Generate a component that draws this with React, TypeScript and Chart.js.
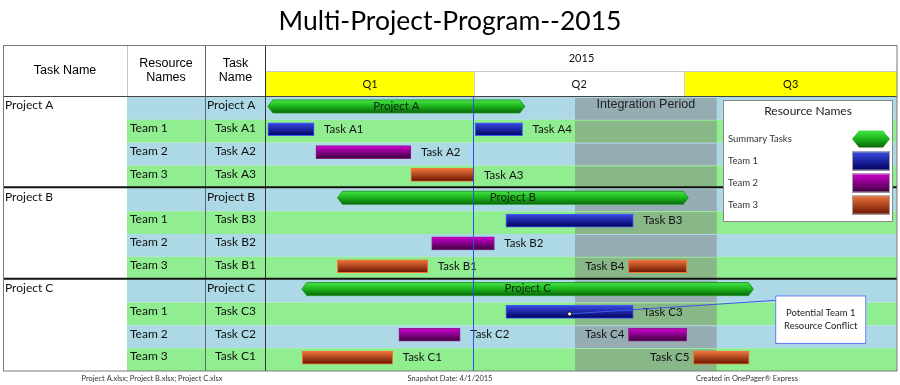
import React, { useEffect, useRef } from 'react';
import { Chart, registerables } from 'chart.js';

Chart.register(...registerables);

// ---------- data ----------
const chartTitle = 'Multi-Project-Program--2015';
const yearLabel = '2015';
const quarterLabels = ['Q1', 'Q2', 'Q3'];
const quarterStarts = [0, 90, 181];
const quarterEnds = [90, 181, 273];
const quarterFills = ['#FFFF00', '#FFFFFF', '#FFFF00'];

const headerLabels = [['Task Name'], ['Resource', 'Names'], ['Task', 'Name']];

const rowKeys = ['A0', 'A1', 'A2', 'A3', 'B0', 'B1', 'B2', 'B3', 'C0', 'C1', 'C2', 'C3'];
const projectNames = ['Project A', 'Project B', 'Project C'];
const rowResources = ['', 'Team 1', 'Team 2', 'Team 3', '', 'Team 1', 'Team 2', 'Team 3', '', 'Team 1', 'Team 2', 'Team 3'];
const rowTaskNames = ['Project A', 'Task A1', 'Task A2', 'Task A3', 'Project B', 'Task B3', 'Task B2', 'Task B1', 'Project C', 'Task C3', 'Task C2', 'Task C1'];

const summaryRows = ['A0', 'B0', 'C0'];
const summaryStart = [0.8, 30.9, 15.5];
const summaryEnd = [112, 182.7, 210.9];
const summaryLabels = ['Project A', 'Project B', 'Project C'];

const team1Rows = ['A1', 'A1', 'B1', 'C1'];
const team1Start = [0.8, 90.5, 103.8, 103.8];
const team1End = [20.8, 111, 158.9, 158.9];
const team1Labels = ['Task A1', 'Task A4', 'Task B3', 'Task C3'];
const team1Sides = ['right', 'right', 'right', 'right'];

const team2Rows = ['A2', 'B2', 'C2', 'C2'];
const team2Start = [21.6, 71.7, 57.5, 156.8];
const team2End = [62.7, 98.8, 84, 182];
const team2Labels = ['Task A2', 'Task B2', 'Task C2', 'Task C4'];
const team2Sides = ['right', 'right', 'right', 'left'];

const team3Rows = ['A3', 'B3', 'B3', 'C3', 'C3'];
const team3Start = [62.7, 30.9, 156.8, 15.7, 184.9];
const team3End = [90, 70, 182, 54.8, 209];
const team3Labels = ['Task A3', 'Task B1', 'Task B4', 'Task C1', 'Task C5'];
const team3Sides = ['right', 'right', 'left', 'right', 'left'];

const legendTitle = 'Resource Names';
const seriesNames = ['Summary Tasks', 'Team 1', 'Team 2', 'Team 3'];

const integrationLabel = 'Integration Period';
const integrationStart = 133.7;
const integrationEnd = 195;
const snapshotDay = 90;

const calloutLines = ['Potential Team 1', 'Resource Conflict'];
const calloutStart = 220.3;
const calloutEnd = 259.7;
const calloutRow = 'C1';
const calloutSeries = 1;
const calloutIndex = 3;

const footerTexts = ['Project A.xlsx; Project B.xlsx; Project C.xlsx', 'Snapshot Date: 4/1/2015', 'Created in OnePager\u00AE Express'];

// ---------- styles ----------
const BODY_FONT = 'Lato, "Noto Sans", "DejaVu Sans", sans-serif';
const HEAD_FONT = '"Liberation Sans", Arial, sans-serif';
const ROW_FILLS = ['#ADD8E6', '#90EE90'];
const teamColors = [
  { top: '#3A4AE6', bottom: '#00005C', border: '#3C5CFF' },
  { top: '#D200D2', bottom: '#3A003A', border: '#8C1C8C' },
  { top: '#F2763E', bottom: '#681400', border: '#F07030' },
];
const summaryColors = { top: '#46E446', mid: '#1CB41C', bottom: '#0A660A', border: '#139313' };

const labelSets = [summaryLabels, team1Labels, team2Labels, team3Labels];
const sideSets = [null, team1Sides, team2Sides, team3Sides];

function points(rows: string[], starts: number[], ends: number[]) {
  return rows.map((r, i) => ({ x: [starts[i], ends[i]], y: r }));
}

function barGradient(top: string, bottom: string) {
  return (c: any) => {
    const chart = c.chart;
    const ys = chart.scales && chart.scales.y;
    if (c.type !== 'data' || !ys || !c.raw) return bottom;
    const yc = ys.getPixelForValue(rowKeys.indexOf(c.raw.y));
    if (!isFinite(yc)) return bottom;
    const g = chart.ctx.createLinearGradient(0, yc - 6.5, 0, yc + 6.5);
    g.addColorStop(0, top);
    g.addColorStop(1, bottom);
    return g;
  };
}

function hexPath(ctx: CanvasRenderingContext2D, x0: number, x1: number, yc: number, h: number, tip: number) {
  ctx.beginPath();
  ctx.moveTo(x0, yc);
  ctx.lineTo(x0 + tip, yc - h);
  ctx.lineTo(x1 - tip, yc - h);
  ctx.lineTo(x1, yc);
  ctx.lineTo(x1 - tip, yc + h);
  ctx.lineTo(x0 + tip, yc + h);
  ctx.closePath();
}

function summaryFill(ctx: CanvasRenderingContext2D, yTop: number, yBot: number) {
  const g = ctx.createLinearGradient(0, yTop, 0, yBot);
  g.addColorStop(0, summaryColors.top);
  g.addColorStop(0.5, summaryColors.mid);
  g.addColorStop(1, summaryColors.bottom);
  return g;
}

function line(ctx: CanvasRenderingContext2D, x0: number, y0: number, x1: number, y1: number, color: string, w: number) {
  ctx.save();
  ctx.strokeStyle = color;
  ctx.lineWidth = w;
  ctx.beginPath();
  ctx.moveTo(x0, y0);
  ctx.lineTo(x1, y1);
  ctx.stroke();
  ctx.restore();
}

function text(ctx: CanvasRenderingContext2D, s: string, x: number, y: number, font: string, color: string, align: CanvasTextAlign) {
  ctx.save();
  ctx.font = font;
  ctx.fillStyle = color;
  ctx.textAlign = align;
  ctx.textBaseline = 'middle';
  ctx.fillText(s, x, y);
  ctx.restore();
}

const TABLE_LEFT = 3;
const COL1 = 127;
const COL2 = 205;
const HEAD_TOP = 45;
const HEAD_MID = 71;

function geometry(chart: any) {
  const ys = chart.scales.y;
  const band = ys.getPixelForValue(1) - ys.getPixelForValue(0);
  const center = (i: number) => ys.getPixelForValue(i);
  const top = (i: number) => center(i) - band / 2 + 2;
  return { band, center, top, bottom: (i: number) => top(i) + band };
}

const ganttPlugin = {
  id: 'ganttFrame',
  beforeDraw(chart: any) {
    const { ctx, chartArea: ca } = chart;
    const xs = chart.scales.x;
    const g = geometry(chart);
    const headBottom = g.top(0);

    ctx.save();
    ctx.fillStyle = '#FFFFFF';
    ctx.fillRect(0, 0, chart.width, chart.height);

    // title
    text(ctx, chartTitle, chart.width / 2, 21, '26.5px ' + BODY_FONT, '#000000', 'center');

    // quarter cells
    quarterLabels.forEach((q, i) => {
      const x0 = xs.getPixelForValue(quarterStarts[i]);
      const x1 = xs.getPixelForValue(quarterEnds[i]);
      ctx.fillStyle = quarterFills[i];
      ctx.fillRect(x0, HEAD_MID, x1 - x0, headBottom - HEAD_MID);
      text(ctx, q, (x0 + x1) / 2, 84.5, '11px ' + BODY_FONT, '#111111', 'center');
    });
    text(ctx, yearLabel, (ca.left + ca.right) / 2, 58, '11px ' + BODY_FONT, '#111111', 'center');

    // header column labels
    const headCenters = [(TABLE_LEFT + COL1) / 2, (COL1 + COL2) / 2, (COL2 + ca.left) / 2];
    headerLabels.forEach((lines, i) => {
      if (lines.length === 1) text(ctx, lines[0], headCenters[i], 71, '12.5px ' + HEAD_FONT, '#000000', 'center');
      else lines.forEach((l, k) => text(ctx, l, headCenters[i], 63.5 + k * 14, '12.5px ' + HEAD_FONT, '#000000', 'center'));
    });

    // row backgrounds
    rowKeys.forEach((_, i) => {
      ctx.fillStyle = ROW_FILLS[i % 2];
      ctx.fillRect(COL1, g.top(i), ca.right - COL1, g.band);
    });

    // integration period band (per row, leaving a 1px seam)
    const ix0 = xs.getPixelForValue(integrationStart);
    const ix1 = xs.getPixelForValue(integrationEnd);
    ctx.fillStyle = 'rgba(128,128,128,0.5)';
    rowKeys.forEach((_, i) => {
      ctx.fillRect(ix0, g.top(i) + 1, ix1 - ix0, g.band - 1);
    });
    text(ctx, integrationLabel, (ix0 + ix1) / 2, g.center(0) - 1.5, '12.5px ' + HEAD_FONT, '#222222', 'center');

    // left column texts
    rowKeys.forEach((_, i) => {
      const yc = g.center(i);
      if (i % 4 === 0) {
        text(ctx, projectNames[i / 4], TABLE_LEFT + 2, yc - 1, '12px ' + BODY_FONT, '#111111', 'left');
        text(ctx, rowTaskNames[i], COL2 + 2, yc - 1, '12px ' + BODY_FONT, '#111111', 'left');
      } else {
        text(ctx, rowResources[i], COL1 + 3, yc - 1, '12px ' + BODY_FONT, '#111111', 'left');
        text(ctx, rowTaskNames[i], (COL2 + ca.left) / 2, yc - 1, '12px ' + BODY_FONT, '#111111', 'center');
      }
    });
    ctx.restore();
  },
  afterDatasetsDraw(chart: any) {
    const { ctx, chartArea: ca } = chart;
    const xs = chart.scales.x;
    const g = geometry(chart);
    const headBottom = g.top(0);
    const tableBottom = g.bottom(rowKeys.length - 1);
    ctx.save();

    // summary bars
    const metaS = chart.getDatasetMeta(0);
    metaS.data.forEach((el: any, i: number) => {
      const x0 = Math.min(el.x, el.base);
      const x1 = Math.max(el.x, el.base);
      const yc = el.y;
      const h = 6.5;
      if (!isFinite(x0) || !isFinite(x1) || !isFinite(yc)) return;
      hexPath(ctx, x0, x1, yc, h, 5);
      ctx.fillStyle = summaryFill(ctx, yc - h, yc + h);
      ctx.fill();
      ctx.strokeStyle = summaryColors.border;
      ctx.lineWidth = 0.8;
      ctx.stroke();
      text(ctx, summaryLabels[i], (x0 + x1) / 2, yc - 0.5, '11.5px ' + BODY_FONT, '#0C260C', 'center');
    });

    // task labels
    for (let d = 1; d < labelSets.length; d++) {
      const meta = chart.getDatasetMeta(d);
      meta.data.forEach((el: any, i: number) => {
        const x0 = Math.min(el.x, el.base);
        const x1 = Math.max(el.x, el.base);
        const side = (sideSets[d] as string[])[i];
        if (side === 'left') text(ctx, labelSets[d][i], x0 - 4, el.y, '11.5px ' + BODY_FONT, '#111111', 'right');
        else text(ctx, labelSets[d][i], x1 + 10, el.y, '11.5px ' + BODY_FONT, '#111111', 'left');
      });
    }

    // snapshot (today) line
    const tx = Math.round(xs.getPixelForValue(snapshotDay)) - 0.5;
    line(ctx, tx, headBottom, tx, tableBottom, '#2F4FE6', 1);

    // header grid
    line(ctx, ca.left, HEAD_MID + 0.5, ca.right, HEAD_MID + 0.5, '#C8C8C8', 1);
    for (let i = 1; i < quarterStarts.length; i++) {
      const qx = Math.round(xs.getPixelForValue(quarterStarts[i])) + 0.5;
      line(ctx, qx, HEAD_MID, qx, headBottom, '#D0D0D0', 1);
    }
    line(ctx, COL1 + 0.5, HEAD_TOP, COL1 + 0.5, headBottom, '#C8C8C8', 1);
    line(ctx, TABLE_LEFT, headBottom - 0.5, ca.right, headBottom - 0.5, '#444444', 1);
    line(ctx, COL2 + 0.5, HEAD_TOP, COL2 + 0.5, tableBottom, '#5A6A70', 1);
    line(ctx, ca.left - 0.5, HEAD_TOP, ca.left - 0.5, tableBottom, '#333333', 1);

    // project separators
    for (let i = 4; i < rowKeys.length; i += 4) {
      const yy = g.top(i) - 1;
      line(ctx, TABLE_LEFT, yy, ca.right, yy, '#111111', 2);
    }

    // outer border
    ctx.strokeStyle = '#7A7A7A';
    ctx.lineWidth = 1;
    ctx.strokeRect(TABLE_LEFT + 0.5, HEAD_TOP + 0.5, ca.right - TABLE_LEFT - 0.5, tableBottom - HEAD_TOP - 0.5);

    // legend box
    const lx1 = ca.right - 4;
    const lx0 = lx1 - 170;
    const ly0 = headBottom + 3;
    const ly1 = ly0 + 122;
    ctx.fillStyle = '#FFFFFF';
    ctx.fillRect(lx0, ly0, lx1 - lx0, ly1 - ly0);
    ctx.strokeStyle = '#8A8A8A';
    ctx.strokeRect(lx0 + 0.5, ly0 + 0.5, lx1 - lx0 - 1, ly1 - ly0 - 1);
    text(ctx, legendTitle, (lx0 + lx1) / 2, ly0 + 11, '12px ' + BODY_FONT, '#222222', 'center');
    seriesNames.forEach((name, i) => {
      const yc = ly0 + 39 + i * 22;
      text(ctx, name, lx0 + 5, yc, '9.5px ' + BODY_FONT, '#333333', 'left');
      const sx0 = lx1 - 41;
      const sx1 = lx1 - 3;
      if (i === 0) {
        hexPath(ctx, sx0, sx1, yc, 8.5, 7);
        ctx.fillStyle = summaryFill(ctx, yc - 8.5, yc + 8.5);
        ctx.fill();
      } else {
        const c = teamColors[i - 1];
        const gr = ctx.createLinearGradient(0, yc - 9.5, 0, yc + 9.5);
        gr.addColorStop(0, c.top);
        gr.addColorStop(1, c.bottom);
        ctx.fillStyle = gr;
        ctx.fillRect(sx0, yc - 9.5, sx1 - sx0, 19);
        ctx.strokeStyle = '#A0A0A0';
        ctx.lineWidth = 1;
        ctx.strokeRect(sx0 + 0.5, yc - 9.5 + 0.5, sx1 - sx0 - 1, 18);
      }
    });

    // callout
    const target = chart.getDatasetMeta(calloutSeries).data[calloutIndex];
    if (target) {
      const ax = (target.x + target.base) / 2;
      const ay = target.y + 2;
      const cx0 = xs.getPixelForValue(calloutStart);
      const cx1 = xs.getPixelForValue(calloutEnd);
      const cy0 = g.center(rowKeys.indexOf(calloutRow)) - 16.5;
      const cy1 = cy0 + 48.5;
      line(ctx, ax, ay, cx0, cy0 + 5, '#3A5AE8', 1);
      ctx.beginPath();
      ctx.arc(ax, ay, 2, 0, Math.PI * 2);
      ctx.fillStyle = '#FFFFFF';
      ctx.fill();
      ctx.strokeStyle = '#222222';
      ctx.lineWidth = 1;
      ctx.stroke();
      ctx.fillStyle = '#FFFFFF';
      ctx.fillRect(cx0, cy0, cx1 - cx0, cy1 - cy0);
      ctx.strokeStyle = '#5C74F0';
      ctx.strokeRect(cx0 + 0.5, cy0 + 0.5, cx1 - cx0 - 1, cy1 - cy0 - 1);
      calloutLines.forEach((l, k) => text(ctx, l, (cx0 + cx1) / 2, cy0 + 18 + k * 12.5, '9.5px ' + BODY_FONT, '#222222', 'center'));
    }

    // footer
    const footerX = [152, 450, 747];
    footerTexts.forEach((s, i) => text(ctx, s, footerX[i], 378.5, '7.5px ' + BODY_FONT, '#333333', 'center'));

    ctx.restore();
  },
};

export default function App() {
  const canvasRef = useRef<HTMLCanvasElement | null>(null);

  useEffect(() => {
    document.body.style.margin = '0';
    const canvas = canvasRef.current;
    if (!canvas) return;
    const datasets: any[] = [
      {
        label: seriesNames[0],
        data: points(summaryRows, summaryStart, summaryEnd),
        backgroundColor: 'rgba(0,0,0,0)',
        borderWidth: 0,
      },
      {
        label: seriesNames[1],
        data: points(team1Rows, team1Start, team1End),
        backgroundColor: barGradient(teamColors[0].top, teamColors[0].bottom),
        borderColor: teamColors[0].border,
        borderWidth: 1,
      },
      {
        label: seriesNames[2],
        data: points(team2Rows, team2Start, team2End),
        backgroundColor: barGradient(teamColors[1].top, teamColors[1].bottom),
        borderColor: teamColors[1].border,
        borderWidth: 1,
      },
      {
        label: seriesNames[3],
        data: points(team3Rows, team3Start, team3End),
        backgroundColor: barGradient(teamColors[2].top, teamColors[2].bottom),
        borderColor: teamColors[2].border,
        borderWidth: 1,
      },
    ];
    datasets.forEach((d) => {
      d.grouped = false;
      d.barThickness = 13;
      d.borderSkipped = false;
    });
    const chart = new Chart(canvas, {
      type: 'bar',
      data: { labels: rowKeys, datasets },
      options: {
        indexAxis: 'y',
        responsive: false,
        animation: false,
        devicePixelRatio: 1,
        layout: { padding: { left: 266, right: 3, top: 95, bottom: 16 } },
        scales: {
          x: { type: 'linear', min: 0, max: 273, display: false },
          y: { type: 'category', display: false },
        },
        plugins: {
          legend: { display: false },
          tooltip: { enabled: false },
          title: { display: false },
        },
      },
      plugins: [ganttPlugin],
    } as any);
    return () => chart.destroy();
  }, []);

  return (
    <div style={{ width: 900, height: 385 }}>
      <canvas ref={canvasRef} width={900} height={385} style={{ display: 'block', width: 900, height: 385 }} />
    </div>
  );
}
